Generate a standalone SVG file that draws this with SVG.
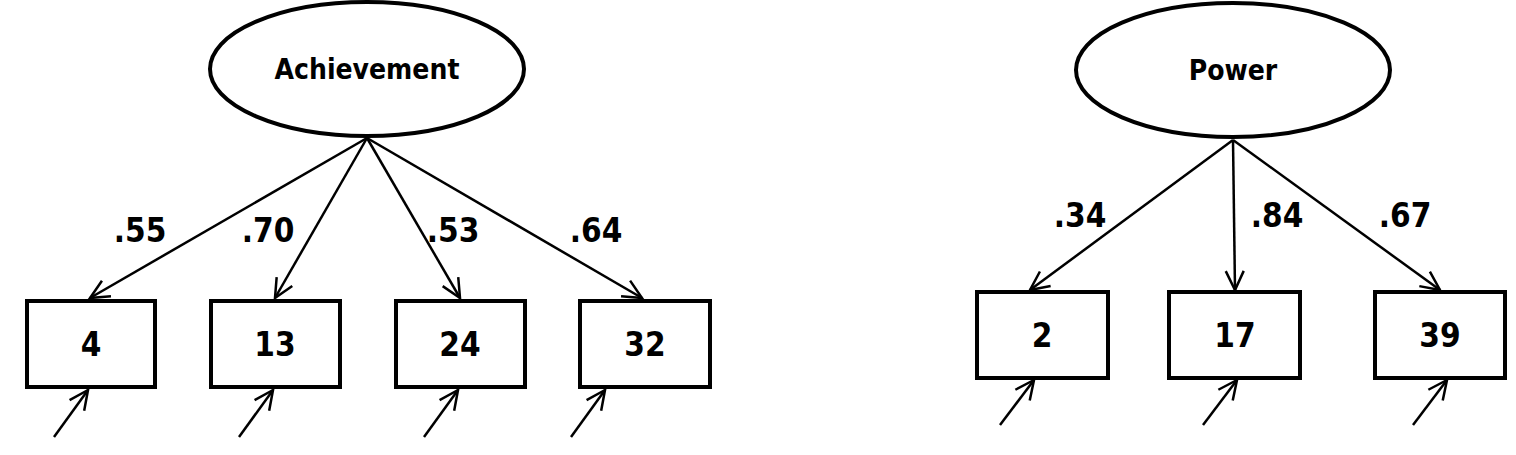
<svg xmlns="http://www.w3.org/2000/svg" width="1516" height="455" viewBox="0 0 1516 455">
<defs>
<marker id="a" markerWidth="24" markerHeight="24" refX="21" refY="12" orient="auto" markerUnits="userSpaceOnUse"><path d="M2,3 L21,12 L2,21" fill="none" stroke="#000" stroke-width="2.5"/></marker>
</defs>
<style>
.n{fill:#fff;stroke:#000;stroke-width:4}
.t{font-family:"DejaVu Sans Condensed","DejaVu Sans",sans-serif;font-weight:bold;text-anchor:middle}
.c line{stroke:#000;stroke-width:2.5;marker-end:url(#a)}
</style>
<rect width="1516" height="455" fill="#fff"/>
<g class="c">
<line x1="367" y1="138" x2="90" y2="298"/>
<line x1="367" y1="138" x2="275" y2="298"/>
<line x1="367" y1="138" x2="460" y2="298"/>
<line x1="367" y1="138" x2="642" y2="298"/>
<line x1="1233" y1="140" x2="1030" y2="290"/>
<line x1="1233" y1="140" x2="1235" y2="290"/>
<line x1="1233" y1="140" x2="1440" y2="290"/>
<line x1="54" y1="437" x2="88" y2="390"/>
<line x1="239" y1="437" x2="273" y2="390"/>
<line x1="424" y1="437" x2="458" y2="390"/>
<line x1="571" y1="437" x2="605" y2="390"/>
<line x1="1000" y1="425" x2="1034" y2="380"/>
<line x1="1203" y1="425" x2="1237" y2="380"/>
<line x1="1413" y1="425" x2="1447" y2="380"/>
</g>
<g class="t" font-size="33">
<text x="140" y="242">.55</text>
<text x="268" y="242">.70</text>
<text x="453" y="242">.53</text>
<text x="596" y="242">.64</text>
<text x="1080" y="227">.34</text>
<text x="1277" y="227">.84</text>
<text x="1405" y="227">.67</text>
</g>
<g id="achievement"><ellipse class="n" cx="367" cy="69" rx="157" ry="67"/><text class="t" x="367" y="79" font-size="28">Achievement</text></g>
<g id="power"><ellipse class="n" cx="1233" cy="70" rx="157" ry="67"/><text class="t" x="1233" y="80" font-size="28">Power</text></g>
<g id="i4"><rect class="n" x="27" y="301" width="128" height="86"/><text class="t" x="91" y="356" font-size="33">4</text></g>
<g id="i13"><rect class="n" x="211" y="301" width="129" height="86"/><text class="t" x="275" y="356" font-size="33">13</text></g>
<g id="i24"><rect class="n" x="396" y="301" width="129" height="86"/><text class="t" x="460" y="356" font-size="33">24</text></g>
<g id="i32"><rect class="n" x="580" y="301" width="130" height="86"/><text class="t" x="645" y="356" font-size="33">32</text></g>
<g id="i2"><rect class="n" x="977" y="292" width="131" height="86"/><text class="t" x="1042" y="347" font-size="33">2</text></g>
<g id="i17"><rect class="n" x="1169" y="292" width="131" height="86"/><text class="t" x="1235" y="347" font-size="33">17</text></g>
<g id="i39"><rect class="n" x="1375" y="292" width="130" height="86"/><text class="t" x="1440" y="347" font-size="33">39</text></g>
</svg>
